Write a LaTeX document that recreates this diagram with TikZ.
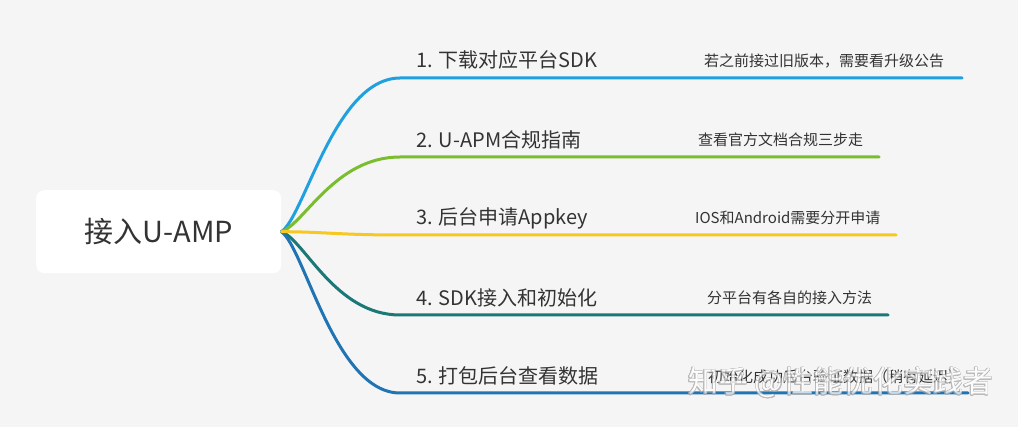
\documentclass[tikz,border=0pt]{standalone}
\usepackage{fontspec}
\usepackage{xcolor}
\usepackage{tikz}
\usepackage{contour}
\usetikzlibrary{positioning, calc}
\newfontfamily\cjk{Noto Sans CJK SC}
\definecolor{mmBack}{RGB}{245,245,245}
\definecolor{mmInk}{RGB}{51,51,51}
\definecolor{mmSky}{RGB}{32,160,222}
\definecolor{mmLeaf}{RGB}{122,190,48}
\definecolor{mmSun}{RGB}{247,200,32}
\definecolor{mmTeal}{RGB}{26,120,118}
\definecolor{mmSea}{RGB}{32,116,180}
\contourlength{0.6pt}

\begin{document}
\begin{tikzpicture}[x=1pt,y=-1pt,
  rootbox/.style={fill=white,rounded corners=8pt,minimum width=245pt,
                  minimum height=83pt,inner sep=0pt,text=mmInk,
                  font=\cjk\fontsize{29}{35}\selectfont},
  topic/.style={anchor=west,inner sep=0pt,text=mmInk,
                font=\cjk\fontsize{20}{24}\selectfont},
  note/.style={anchor=west,inner sep=0pt,text=mmInk,
               font=\cjk\fontsize{15}{18}\selectfont},
  branch/.style={line width=3pt,line cap=round}]

% ===== canvas =====
\useasboundingbox (0,0) rectangle (1018,427);
\fill[mmBack] (0,0) rectangle (1018,427);

% ===== root box (placed first, curves start at its east side) =====
\node[rootbox,anchor=north west] (root) at (36,190) {};

% branch ends: start of underline / end of underline
\coordinate (s1) at (400,78);  \coordinate (e1) at (962,78);
\coordinate (s2) at (400,157); \coordinate (e2) at (879,157);
\coordinate (s3) at (400,235); \coordinate (e3) at (896,235);
\coordinate (s4) at (400,315); \coordinate (e4) at (888,315);
\coordinate (s5) at (400,393); \coordinate (e5) at (968,393);

% ===== curved branches from the root =====
\draw[branch,draw=mmSky]  (root.east) .. controls ($(root.east)+(23,-15)$) and ($(s1)+(-65,0)$) .. (s1) -- (e1);
\draw[branch,draw=mmLeaf] (root.east) .. controls ($(root.east)+(23,-8)$) and ($(s2)+(-65,0)$) .. (s2) -- (e2);
\draw[branch,draw=mmTeal] (root.east) .. controls ($(root.east)+(23,8)$) and ($(s4)+(-65,0)$) .. (s4) -- (e4);
\draw[branch,draw=mmSea]  (root.east) .. controls ($(root.east)+(23,16)$) and ($(s5)+(-65,0)$) .. (s5) -- (e5);
\draw[branch,draw=mmSun]  (root.east) .. controls ($(root.east)+(40,0)$) and ($(s3)+(-60,0)$) .. (s3) -- (e3);

% root label over the box
\node[rootbox,fill=none] (rootlbl) at (root.center) {接入U-AMP};

% ===== topics above each branch =====
\node[topic] (tp1) at ($(s1)+(16,-18)$) {1. 下载对应平台SDK};
\node[topic] (tp2) at ($(s2)+(16,-17)$) {2. U-APM合规指南};
\node[topic] (tp3) at ($(s3)+(16,-17)$) {3. 后台申请Appkey};
\node[topic] (tp4) at ($(s4)+(16,-17)$) {4. SDK接入和初始化};
\node[topic] (tp5) at ($(s5)+(16,-17)$) {5. 打包后台查看数据};

% ===== notes on the right end =====
\node[note] (nt1) at (704,61)  {若之前接过旧版本，需要看升级公告};
\node[note] (nt2) at (698,140) {查看官方文档合规三步走};
\node[note] (nt3) at (695,218) {IOS和Android需要分开申请};
\node[note] (nt4) at (707,298) {分平台有各自的接入方法};
\node[note] (nt5) at (708,377) {初始化成功后台验证数据（稍有延迟）};

% watermark
\begin{scope}[transparency group,opacity=0.75]
\node[anchor=west,inner sep=0pt,font=\cjk\fontsize{30}{36}\selectfont]
  (wm) at (688,383) {\contour{black!35}{\textcolor{white}{知乎 @性能优化实践者}}};
\end{scope}
\end{tikzpicture}
\end{document}
